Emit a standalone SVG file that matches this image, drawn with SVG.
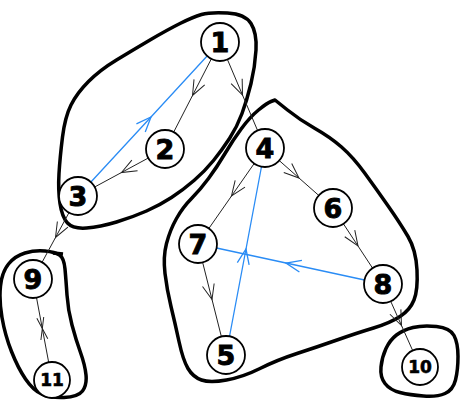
<svg xmlns="http://www.w3.org/2000/svg" width="473" height="400" viewBox="0 0 473 400">
<style>
.blob{fill:none;stroke:#000;stroke-width:3.5;stroke-linejoin:round}
.e{fill:none;stroke:#222;stroke-width:1}
.b{fill:none;stroke:#2a8cf5;stroke-width:1.3}
.n circle{fill:#fff;stroke:#000;stroke-width:1.8}
.n text{font-family:"DejaVu Sans",sans-serif;font-weight:bold;font-size:27px;text-anchor:middle;fill:#000;stroke:#000;stroke-width:0.9}
.n text.s{font-size:17px;stroke-width:0.6}
</style>
<defs>
<marker id="ak" markerUnits="userSpaceOnUse" markerWidth="30" markerHeight="30" refX="0" refY="0" orient="auto" overflow="visible" viewBox="-15 -15 30 30">
<path d="M -15 -6 L 0 0 L -15 6" fill="none" stroke="#222" stroke-width="1"/>
</marker>
<marker id="ab" markerUnits="userSpaceOnUse" markerWidth="30" markerHeight="30" refX="0" refY="0" orient="auto" overflow="visible" viewBox="-15 -15 30 30">
<path d="M -15 -6 L 0 0 L -15 6" fill="none" stroke="#2a8cf5" stroke-width="1.3"/>
</marker>
<marker id="ax" markerUnits="userSpaceOnUse" markerWidth="30" markerHeight="30" refX="0" refY="0" orient="auto" overflow="visible" viewBox="-15 -15 30 30">
<path d="M -12 -3.5 L 10 3.5 M -12 3.5 L 10 -3.5" fill="none" stroke="#222" stroke-width="1"/>
</marker>
</defs>
<g id="groups">
<path class="blob" d="M 227.5 13 Q 245 14 251 23.5 Q 257 33 256 50 Q 255 67 251 83.5 Q 247 100 242 113.5 Q 237 127 229.5 138.5 Q 222 150 213.5 160.5 Q 205 171 194 180.5 Q 183 190 171.5 197.5 Q 160 205 146.5 211 Q 133 217 116.5 222 Q 100 227 86.5 228 Q 73 229 67.5 223 Q 62 217 60 203.5 Q 58 190 59 173.5 Q 60 157 62.5 137 Q 65 117 71 105 Q 77 93 88.5 81.5 Q 100 70 116.5 60 Q 133 50 150 40 Q 167 30 180 23.5 Q 193 17 201.5 14.5 Q 210 12 227.5 13 Z"/>
<path class="blob" d="M 275 100 L 287.5 110 Q 300 120 315 128.5 Q 330 137 341.5 147 Q 353 157 365 173.5 Q 377 190 388.5 206.5 Q 400 223 408 236.5 Q 416 250 417 270 Q 418 290 414 300 Q 410 310 400 316.5 Q 390 323 373.5 328 Q 357 333 337 340 Q 317 347 297 353.5 Q 277 360 260 368.5 Q 243 377 226.5 380 Q 210 383 201.5 380 Q 193 377 188 368.5 Q 183 360 179 341.5 Q 175 323 171 306.5 Q 167 290 165 273.5 Q 163 257 166.5 243.5 Q 170 230 176.5 218.5 Q 183 207 191.5 198.5 Q 200 190 208.5 178.5 Q 217 167 225 153.5 Q 233 140 241.5 128.5 Q 250 117 258.5 110 Q 267 103 271 101.5 Z"/>
<path class="blob" d="M 413 327.5 Q 423 325 436.5 326.5 Q 450 328 454 335.5 Q 458 343 458 356.5 Q 458 370 455.5 380 Q 453 390 445 393.5 Q 437 397 423.5 396 Q 410 395 400 392.5 Q 390 390 385 383.5 Q 380 377 381 367 Q 382 357 386 348.5 Q 390 340 396.5 335 Q 403 330 413 327.5 Z"/>
<path class="blob" d="M 45 251 Q 55 252 59.5 255 Q 64 258 65 269 Q 66 280 67 295 Q 68 310 72 325 Q 76 340 80.5 352.5 Q 85 365 86 375 Q 87 385 82.5 391 Q 78 397 64 397.5 Q 50 398 41.5 394 Q 33 390 25.5 379 Q 18 368 11.5 351.5 Q 5 335 2 317.5 Q -1 300 0.5 286 Q 2 272 8.5 264 Q 15 256 25 253 Q 35 250 45 251 Z"/>
<path class="blob" d="M 53 253 L 63 254"/>
</g>
<g id="connectors">
<path class="e" marker-mid="url(#ak)" d="M 220 42 L 192.5 95.5 L 165 149"/>
<path class="e" marker-mid="url(#ak)" d="M 220 42 L 242.5 95 L 265 148"/>
<path class="e" marker-mid="url(#ak)" d="M 165 149 L 121.5 172.5 L 78 196"/>
<path class="b" marker-mid="url(#ab)" d="M 78 196 L 151 117 L 220 42"/>
<path class="e" marker-mid="url(#ak)" d="M 78 196 L 55.5 237.5 L 33 279"/>
<path class="e" marker-mid="url(#ax)" d="M 33 279 L 42.5 329.5 L 52 380"/>
<path class="e" marker-mid="url(#ak)" d="M 265 148 L 231.5 196 L 198 244"/>
<path class="e" marker-mid="url(#ak)" d="M 265 148 L 299 178 L 333 208"/>
<path class="e" marker-mid="url(#ak)" d="M 333 208 L 358 246 L 383 284"/>
<path class="e" marker-mid="url(#ak)" d="M 198 244 L 212 299.5 L 226 355"/>
<path class="b" marker-mid="url(#ab)" d="M 226 355 L 246 249 L 265 148"/>
<path class="b" marker-mid="url(#ab)" d="M 383 284 L 286 263 L 198 244"/>
<path class="e" marker-mid="url(#ak)" d="M 383 284 L 401.5 325.5 L 420 367"/>
</g>
<g id="node1" class="n"><circle cx="220" cy="42" r="19"/><text x="220" y="52">1</text></g>
<g id="node2" class="n"><circle cx="165" cy="149" r="19"/><text x="165" y="159">2</text></g>
<g id="node3" class="n"><circle cx="78" cy="196" r="19"/><text x="78" y="206">3</text></g>
<g id="node4" class="n"><circle cx="265" cy="148" r="19"/><text x="265" y="158">4</text></g>
<g id="node5" class="n"><circle cx="226" cy="355" r="19"/><text x="226" y="365">5</text></g>
<g id="node6" class="n"><circle cx="333" cy="208" r="19"/><text x="333" y="218">6</text></g>
<g id="node7" class="n"><circle cx="198" cy="244" r="19"/><text x="198" y="254">7</text></g>
<g id="node8" class="n"><circle cx="383" cy="284" r="19"/><text x="383" y="294">8</text></g>
<g id="node9" class="n"><circle cx="33" cy="279" r="19"/><text x="33" y="289">9</text></g>
<g id="node10" class="n"><circle cx="420" cy="367" r="18"/><text class="s" x="420" y="373">10</text></g>
<g id="node11" class="n"><circle cx="52" cy="380" r="18"/><text class="s" x="52" y="386">11</text></g>
</svg>
